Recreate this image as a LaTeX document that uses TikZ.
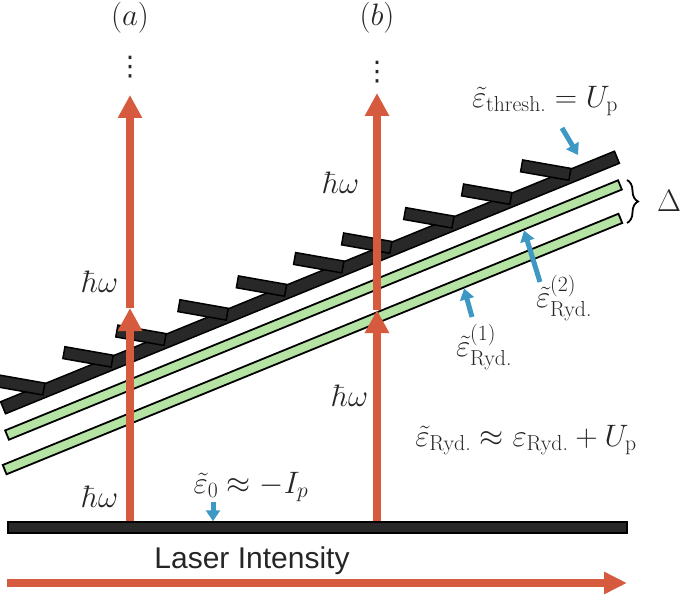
\RequirePackage{fix-cm}
\documentclass[tikz,border=0pt]{standalone}
\usepackage{amsmath}
\usepackage{fontspec}
\setsansfont{Liberation Sans}
\newfontfamily\dotsfont{DejaVu Sans}
\usepackage{tikz}
\usetikzlibrary{arrows.meta, calc, decorations.pathreplacing}

\definecolor{laserorange}{RGB}{213,90,62}
\definecolor{rydgreen}{RGB}{181,227,163}
\definecolor{bardark}{RGB}{40,40,40}
\definecolor{pointblue}{RGB}{62,152,196}
\definecolor{labelgray}{RGB}{38,38,38}

\begin{document}
\begin{tikzpicture}[x=1pt, y=-1pt,
		font=\fontsize{31}{36}\selectfont, text=labelgray,
		photon/.style={draw=laserorange, line width=8pt, -{Triangle[width=23pt,length=23pt]}},
		levelbar/.style={draw=black, line width=1.5pt, fill=bardark, inner sep=0pt},
		rydbar/.style={draw=black, line width=1.8pt, fill=rydgreen, inner sep=0pt, minimum height=10, rotate=22.2},
		tooth/.style={levelbar, minimum width=49, minimum height=12, rotate=-10},
		pointer/.style={draw=pointblue, line width=5pt, -{Triangle[width=14pt,length=11pt]}},
		moredots/.style={font=\fontsize{27}{30}\selectfont\dotsfont}]

		\useasboundingbox (0,0) rectangle (685,596);

		% Ground level
		\node[levelbar, minimum width=619, minimum height=11] (ground) at (317.5,527.5) {};

		% Threshold level with its teeth
		\node[levelbar, rotate=22.2, minimum width=663, minimum height=13] (thresh) at (310,282.5) {};
		\foreach \t in {0.075,0.186,0.272,0.373,0.468,0.561,0.639,0.740,0.834,0.930} {
				\node[tooth, anchor=north east] at ($(thresh.north west)!\t!(thresh.north east)$) {};
			}

		% Rydberg levels
		\node[rydbar, minimum width=662] (ryd2) at (313.5,310) {};
		\node[rydbar, minimum width=665] (ryd1) at (312.5,344) {};

		% Gap between the Rydberg levels
		\coordinate (gaptop) at (627,180);
		\coordinate (gapbot) at (627,223);
		\draw[decorate, decoration={brace, amplitude=11pt}, line width=1.8pt] (gaptop) -- (gapbot);
		\node (delta) at (669,201) {$\Delta$};

		% Column (a): photons
		\coordinate (a1) at (130,308);
		\coordinate (a2) at (130,95);
		\draw[photon] (a1 |- ground.north) -- (a1);
		\draw[photon] (a1) -- (a2);
		\node (lbla) at (130,18) {$(a)$};
		\node[moredots] (dotsa) at (130,67) {⋮};
		\node (hwa1) at (100,497) {$\hbar\omega$};
		\node (hwa2) at (100,282) {$\hbar\omega$};

		% Column (b): photons
		\coordinate (b1) at (377,310);
		\coordinate (b2) at (377,93);
		\draw[photon] (b1 |- ground.north) -- (b1);
		\draw[photon] (b1) -- (b2);
		\node (lblb) at (377,18) {$(b)$};
		\node[moredots] (dotsb) at (377,72) {⋮};
		\node (hwb1) at (350,396) {$\hbar\omega$};
		\node (hwb2) at (341,183) {$\hbar\omega$};

		% Energy labels
		\node (thrlabel) at (545,101) {$\tilde{\varepsilon}_{\text{thresh.}} = U_{\mathrm{p}}$};
		\node (ryd2label) at (564,298) {$\tilde{\varepsilon}^{(2)}_{\text{Ryd.}}$};
		\node (ryd1label) at (484,347) {$\tilde{\varepsilon}^{(1)}_{\text{Ryd.}}$};
		\node (rydlabel) at (526,440) {$\tilde{\varepsilon}_{\text{Ryd.}} \approx \varepsilon_{\text{Ryd.}} + U_{\mathrm{p}}$};
		\node (gndlabel) at (251,487) {$\tilde{\varepsilon}_0 \approx -I_p$};

		% Pointers
		\coordinate (thrtail) at (562,128);
		\coordinate (thrtip) at (578,155);
		\draw[pointer] (thrtail) -- (thrtip);
		\coordinate (ryd2tail) at (540,282);
		\draw[pointer] (ryd2tail) -- ($(ryd2.south west)!0.839!(ryd2.south east)$);
		\coordinate (ryd1tail) at (472,317);
		\draw[pointer] (ryd1tail) -- ($(ryd1.south west)!0.742!(ryd1.south east)$);
		\coordinate (gndtail) at (213,502);
		\draw[pointer] (gndtail) -- (gndtail |- ground.north);

		% Intensity axis
		\coordinate (axstart) at (7,583);
		\coordinate (axend) at (627,583);
		\draw[photon, -{Triangle[width=21pt,length=23pt]}] (axstart) -- (axend);
		\node[font=\fontsize{30}{36}\selectfont\sffamily] (axlabel) at (252,561) {Laser Intensity};

	\end{tikzpicture}
\end{document}
